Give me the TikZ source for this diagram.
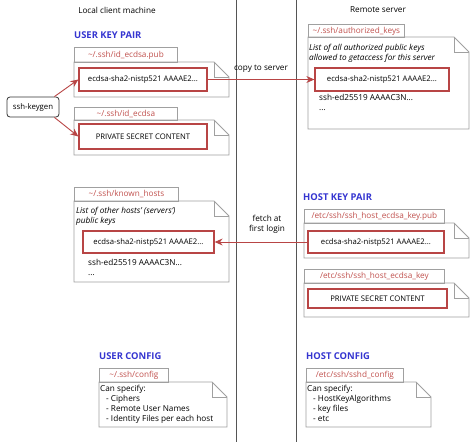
\documentclass[tikz,border=0pt]{standalone}
\usepackage{fontspec}
\setmainfont{Open Sans}
\usetikzlibrary{arrows.meta}
\definecolor{keyred}{HTML}{B84545}
\definecolor{tabred}{HTML}{C0504D}
\definecolor{headblue}{HTML}{3535D0}
\definecolor{fileline}{HTML}{A0A0A0}
\definecolor{divline}{HTML}{555555}
\newcommand\notebody[5]{% x1, ytop, x2, ybottom, fold
  \draw[filestyle] (#1,#2) -- (#3-#5,#2) -- (#3,#2+#5) -- (#3,#4) -- (#1,#4) -- cycle;
  \draw[filestyle] (#3-#5,#2) -- (#3-#5,#2+#5) -- (#3,#2+#5);
}
\begin{document}
\begin{tikzpicture}[x=1pt,y=-1pt,
  font=\fontsize{8.2}{10}\selectfont,
  filestyle/.style={draw=fileline, line width=0.8pt},
  tab/.style={draw=fileline, line width=0.8pt, text=tabred, inner sep=0pt, anchor=north west},
  keybox/.style={draw=keyred, line width=1.3pt, inner sep=0pt, fill=white, font=\fontsize{7.7}{9}\selectfont},
  heading/.style={text=headblue, font=\fontsize{9.4}{11}\selectfont\bfseries, anchor=west, inner sep=0pt},
  note/.style={anchor=north west, align=left, inner sep=0pt},
  conn/.style={draw=keyred, line width=0.9pt, -{Stealth[length=8pt,width=7pt]}},
  divider/.style={draw=divline, line width=0.8pt}
]
\useasboundingbox (0,0) rectangle (474,442);
\draw[divider] (236,0) -- (236,442);
\draw[divider] (296.5,0) -- (296.5,442);

\node (lcm) at (117,10) {Local client machine};
\node (rs) at (378,10) {Remote server};

% USER KEY PAIR
\node[heading] (ukp) at (74,35) {USER KEY PAIR};
\node[tab, minimum width=103pt, minimum height=15pt] (t1) at (74,47) {\textasciitilde/.ssh/id\_ecdsa.pub};
\notebody{74}{62}{229}{97}{15}
\node[keybox, minimum width=128pt, minimum height=23pt] (k1) at (143,79.5) {ecdsa-sha2-nistp521 AAAAE2...};

\node[tab, minimum width=103pt, minimum height=13pt] (t2) at (74,107) {\textasciitilde/.ssh/id\_ecdsa};
\notebody{74}{120}{229}{155}{15}
\node[keybox, minimum width=128pt, minimum height=25pt] (p1) at (143,136.5) {PRIVATE SECRET CONTENT};

\node[draw=black!80, rounded corners=3pt, line width=0.8pt, minimum width=52pt, minimum height=20pt, inner sep=0pt, font=\fontsize{7.8}{9}\selectfont] (kg) at (33,107) {ssh-keygen};
\draw[conn] ([xshift=-5pt]kg.north east) -- (k1.west);
\draw[conn] ([xshift=-5pt]kg.south east) -- (p1.west);

% authorized keys
\node[tab, minimum width=96pt, minimum height=13pt] (t3) at (308,24) {\textasciitilde/.ssh/authorized\_keys};
\notebody{308}{37}{469}{129}{15}
\node[note] (n3) at (309,44) {\itshape List of all authorized public keys\\\itshape allowed to getaccess for this server};
\node[keybox, minimum width=134pt, minimum height=23pt] (ak) at (382,79.5) {ecdsa-sha2-nistp521 AAAAE2...};
\node[note] (o3) at (319,94) {ssh-ed25519 AAAAC3N...\\...};

\draw[conn] (k1.east) -- node[above=3pt, text=black] (cp) {copy to server} (ak.west);

% known hosts
\node[tab, minimum width=104pt, minimum height=14pt] (t4) at (74,187) {\textasciitilde/.ssh/known\_hosts};
\notebody{74}{201}{229}{282}{15}
\node[note] (n4) at (76,207) {\itshape List of other hosts' (servers')\\\itshape public keys};
\node[keybox, minimum width=131pt, minimum height=22pt] (kh) at (148.5,242) {ecdsa-sha2-nistp521 AAAAE2...};
\node[note] (o4) at (88,259) {ssh-ed25519 AAAAC3N...\\...};

% HOST KEY PAIR
\node[heading] (hkp) at (303,197) {HOST KEY PAIR};
\node[tab, minimum width=140pt, minimum height=14pt] (t5) at (304,209) {/etc/ssh/ssh\_host\_ecdsa\_key.pub};
\notebody{304}{223}{469}{258}{15}
\node[keybox, minimum width=136pt, minimum height=22pt] (hk) at (376,242) {ecdsa-sha2-nistp521 AAAAE2...};

\node[tab, minimum width=140pt, minimum height=14pt] (t6) at (304,269) {/etc/ssh/ssh\_host\_ecdsa\_key};
\notebody{304}{283}{469}{317}{15}
\node[keybox, minimum width=139pt, minimum height=19pt] (hp) at (377.5,298.5) {PRIVATE SECRET CONTENT};

\draw[conn] (hk.west) -- (kh.east);
\node[align=center, inner sep=0pt] (fl) at (267,224.5) {fetch at\\first login};

% USER CONFIG
\node[heading] (uc) at (99,356) {USER CONFIG};
\node[tab, minimum width=69pt, minimum height=14pt] (t7) at (99,368) {\textasciitilde/.ssh/config};
\notebody{99}{382}{227}{427}{15}
\node[note] (n7) at (100,385) {Can specify:\\
\hspace*{6pt}- Ciphers\\
\hspace*{6pt}- Remote User Names\\
\hspace*{6pt}- Identity Files per each host};

% HOST CONFIG
\node[heading] (hc) at (306,356) {HOST CONFIG};
\node[tab, minimum width=97pt, minimum height=14pt] (t8) at (306,368) {/etc/ssh/sshd\_config};
\notebody{306}{382}{431}{427}{15}
\node[note] (n8) at (307,385) {Can specify:\\
\hspace*{6pt}- HostKeyAlgorithms\\
\hspace*{6pt}- key files\\
\hspace*{6pt}- etc};
\end{tikzpicture}
\end{document}
